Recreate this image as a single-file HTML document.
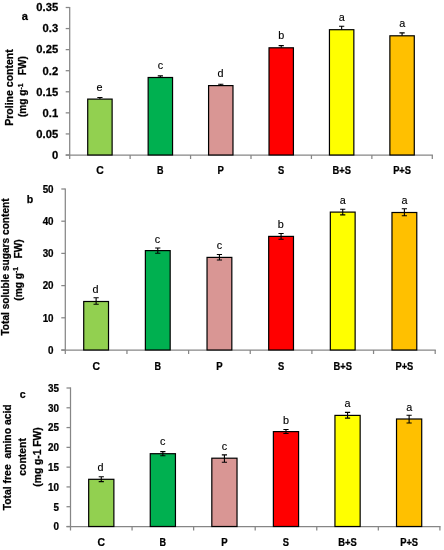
<!DOCTYPE html>
<html><head><meta charset="utf-8"><title>Figure</title>
<style>
html,body{margin:0;padding:0;background:#fff;}
svg{display:block;}
text{font-family:"Liberation Sans", sans-serif;fill:#000;white-space:pre;}
.b{font-weight:bold;font-size:10.6px;stroke:#000;stroke-width:0.25px;}
.r{font-size:11.4px;stroke:#000;stroke-width:0.15px;}
</style></head><body>
<svg width="444" height="550" viewBox="0 0 444 550">
<rect width="444" height="550" fill="#fff"/>
<line x1="69.7" y1="6.875" x2="69.7" y2="155" stroke="#868686" stroke-width="1.25"/>
<line x1="65.7" y1="155" x2="432.925" y2="155" stroke="#868686" stroke-width="1.25"/>
<line x1="65.7" y1="155.00" x2="69.7" y2="155.00" stroke="#868686" stroke-width="1.25"/>
<text transform="translate(58.20 158.80) scale(1.06 1)" text-anchor="end" class="b">0</text>
<line x1="65.7" y1="133.93" x2="69.7" y2="133.93" stroke="#868686" stroke-width="1.25"/>
<text transform="translate(58.20 137.73) scale(1.06 1)" text-anchor="end" class="b">0.05</text>
<line x1="65.7" y1="112.86" x2="69.7" y2="112.86" stroke="#868686" stroke-width="1.25"/>
<text transform="translate(58.20 116.66) scale(1.06 1)" text-anchor="end" class="b">0.1</text>
<line x1="65.7" y1="91.79" x2="69.7" y2="91.79" stroke="#868686" stroke-width="1.25"/>
<text transform="translate(58.20 95.59) scale(1.06 1)" text-anchor="end" class="b">0.15</text>
<line x1="65.7" y1="70.71" x2="69.7" y2="70.71" stroke="#868686" stroke-width="1.25"/>
<text transform="translate(58.20 74.51) scale(1.06 1)" text-anchor="end" class="b">0.2</text>
<line x1="65.7" y1="49.64" x2="69.7" y2="49.64" stroke="#868686" stroke-width="1.25"/>
<text transform="translate(58.20 53.44) scale(1.06 1)" text-anchor="end" class="b">0.25</text>
<line x1="65.7" y1="28.57" x2="69.7" y2="28.57" stroke="#868686" stroke-width="1.25"/>
<text transform="translate(58.20 32.37) scale(1.06 1)" text-anchor="end" class="b">0.3</text>
<line x1="65.7" y1="7.50" x2="69.7" y2="7.50" stroke="#868686" stroke-width="1.25"/>
<text transform="translate(58.20 11.30) scale(1.06 1)" text-anchor="end" class="b">0.35</text>
<line x1="69.70" y1="155" x2="69.70" y2="159" stroke="#868686" stroke-width="1.25"/>
<line x1="130.13" y1="155" x2="130.13" y2="159" stroke="#868686" stroke-width="1.25"/>
<line x1="190.57" y1="155" x2="190.57" y2="159" stroke="#868686" stroke-width="1.25"/>
<line x1="251.00" y1="155" x2="251.00" y2="159" stroke="#868686" stroke-width="1.25"/>
<line x1="311.43" y1="155" x2="311.43" y2="159" stroke="#868686" stroke-width="1.25"/>
<line x1="371.87" y1="155" x2="371.87" y2="159" stroke="#868686" stroke-width="1.25"/>
<line x1="432.30" y1="155" x2="432.30" y2="159" stroke="#868686" stroke-width="1.25"/>
<rect x="87.72" y="99.10" width="24.4" height="55.90" fill="#92D050" stroke="#000" stroke-width="1.2"/>
<path d="M99.92 97.50V99.10M97.32 97.50h5.2" stroke="#000" stroke-width="1.1" fill="none"/>
<text transform="translate(99.60 91.30) scale(0.95 1)" text-anchor="middle" class="r">e</text>
<text transform="translate(99.92 174.30) scale(0.98 1)" text-anchor="middle" class="b">C</text>
<rect x="148.15" y="77.50" width="24.4" height="77.50" fill="#00B050" stroke="#000" stroke-width="1.2"/>
<path d="M160.35 75.90V77.50M157.75 75.90h5.2" stroke="#000" stroke-width="1.1" fill="none"/>
<text transform="translate(160.40 69.30) scale(0.95 1)" text-anchor="middle" class="r">c</text>
<text transform="translate(160.35 174.30) scale(0.85 1)" text-anchor="middle" class="b">B</text>
<rect x="208.58" y="85.60" width="24.4" height="69.40" fill="#D99694" stroke="#000" stroke-width="1.2"/>
<path d="M220.78 84.20V85.60M218.18 84.20h5.2" stroke="#000" stroke-width="1.1" fill="none"/>
<text transform="translate(220.40 77.30) scale(0.95 1)" text-anchor="middle" class="r">d</text>
<text transform="translate(220.78 174.30) scale(0.9 1)" text-anchor="middle" class="b">P</text>
<rect x="269.02" y="47.80" width="24.4" height="107.20" fill="#FF0000" stroke="#000" stroke-width="1.2"/>
<path d="M281.22 45.60V47.80M278.62 45.60h5.2" stroke="#000" stroke-width="1.1" fill="none"/>
<text transform="translate(281.20 39.40) scale(0.95 1)" text-anchor="middle" class="r">b</text>
<text transform="translate(281.22 174.30) scale(0.88 1)" text-anchor="middle" class="b">S</text>
<rect x="329.45" y="29.70" width="24.4" height="125.30" fill="#FFFF00" stroke="#000" stroke-width="1.2"/>
<path d="M341.65 26.20V29.70M339.05 26.20h5.2" stroke="#000" stroke-width="1.1" fill="none"/>
<text transform="translate(341.70 20.90) scale(0.95 1)" text-anchor="middle" class="r">a</text>
<text transform="translate(341.65 174.30) scale(0.88 1)" text-anchor="middle" class="b">B+S</text>
<rect x="389.88" y="35.80" width="24.4" height="119.20" fill="#FFC000" stroke="#000" stroke-width="1.2"/>
<path d="M402.08 32.90V35.80M399.48 32.90h5.2" stroke="#000" stroke-width="1.1" fill="none"/>
<text transform="translate(402.20 27.10) scale(0.95 1)" text-anchor="middle" class="r">a</text>
<text transform="translate(402.08 174.30) scale(0.88 1)" text-anchor="middle" class="b">P+S</text>
<text transform="translate(24.80 19.70) scale(1.05 1)" text-anchor="middle" class="b">a</text>
<text transform="translate(12.6 87.5) rotate(-90)" text-anchor="middle" textLength="76.5" lengthAdjust="spacingAndGlyphs" class="b">Proline content</text>
<text transform="translate(26.3 86.6) rotate(-90)" text-anchor="middle" textLength="61" lengthAdjust="spacingAndGlyphs" class="b">(mg g<tspan dy="-3.6" font-size="7">-1</tspan><tspan dy="3.6">&#160;&#160;&#160;FW)</tspan></text>
<line x1="65.3" y1="188.375" x2="65.3" y2="350" stroke="#868686" stroke-width="1.25"/>
<line x1="61.3" y1="350" x2="435.825" y2="350" stroke="#868686" stroke-width="1.25"/>
<line x1="61.3" y1="350.00" x2="65.3" y2="350.00" stroke="#868686" stroke-width="1.25"/>
<text transform="translate(53.60 353.80) scale(0.93 1)" text-anchor="end" class="b">0</text>
<line x1="61.3" y1="317.80" x2="65.3" y2="317.80" stroke="#868686" stroke-width="1.25"/>
<text transform="translate(53.60 321.60) scale(0.93 1)" text-anchor="end" class="b">10</text>
<line x1="61.3" y1="285.60" x2="65.3" y2="285.60" stroke="#868686" stroke-width="1.25"/>
<text transform="translate(53.60 289.40) scale(0.93 1)" text-anchor="end" class="b">20</text>
<line x1="61.3" y1="253.40" x2="65.3" y2="253.40" stroke="#868686" stroke-width="1.25"/>
<text transform="translate(53.60 257.20) scale(0.93 1)" text-anchor="end" class="b">30</text>
<line x1="61.3" y1="221.20" x2="65.3" y2="221.20" stroke="#868686" stroke-width="1.25"/>
<text transform="translate(53.60 225.00) scale(0.93 1)" text-anchor="end" class="b">40</text>
<line x1="61.3" y1="189.00" x2="65.3" y2="189.00" stroke="#868686" stroke-width="1.25"/>
<text transform="translate(53.60 192.80) scale(0.93 1)" text-anchor="end" class="b">50</text>
<line x1="65.30" y1="350" x2="65.30" y2="354" stroke="#868686" stroke-width="1.25"/>
<line x1="126.95" y1="350" x2="126.95" y2="354" stroke="#868686" stroke-width="1.25"/>
<line x1="188.60" y1="350" x2="188.60" y2="354" stroke="#868686" stroke-width="1.25"/>
<line x1="250.25" y1="350" x2="250.25" y2="354" stroke="#868686" stroke-width="1.25"/>
<line x1="311.90" y1="350" x2="311.90" y2="354" stroke="#868686" stroke-width="1.25"/>
<line x1="373.55" y1="350" x2="373.55" y2="354" stroke="#868686" stroke-width="1.25"/>
<line x1="435.20" y1="350" x2="435.20" y2="354" stroke="#868686" stroke-width="1.25"/>
<rect x="83.72" y="301.50" width="24.8" height="48.50" fill="#92D050" stroke="#000" stroke-width="1.2"/>
<path d="M96.12 297.70V304.20M93.53 297.70h5.2M93.53 304.20h5.2" stroke="#000" stroke-width="1.1" fill="none"/>
<text transform="translate(95.50 292.70) scale(0.95 1)" text-anchor="middle" class="r">d</text>
<text transform="translate(96.12 369.50) scale(0.98 1)" text-anchor="middle" class="b">C</text>
<rect x="145.37" y="250.60" width="24.8" height="99.40" fill="#00B050" stroke="#000" stroke-width="1.2"/>
<path d="M157.77 248.00V253.20M155.17 248.00h5.2M155.17 253.20h5.2" stroke="#000" stroke-width="1.1" fill="none"/>
<text transform="translate(157.50 242.70) scale(0.95 1)" text-anchor="middle" class="r">c</text>
<text transform="translate(157.77 369.50) scale(0.85 1)" text-anchor="middle" class="b">B</text>
<rect x="207.03" y="257.40" width="24.8" height="92.60" fill="#D99694" stroke="#000" stroke-width="1.2"/>
<path d="M219.43 254.50V260.00M216.83 254.50h5.2M216.83 260.00h5.2" stroke="#000" stroke-width="1.1" fill="none"/>
<text transform="translate(219.40 249.00) scale(0.95 1)" text-anchor="middle" class="r">c</text>
<text transform="translate(219.43 369.50) scale(0.9 1)" text-anchor="middle" class="b">P</text>
<rect x="268.68" y="236.40" width="24.8" height="113.60" fill="#FF0000" stroke="#000" stroke-width="1.2"/>
<path d="M281.07 233.50V239.20M278.47 233.50h5.2M278.47 239.20h5.2" stroke="#000" stroke-width="1.1" fill="none"/>
<text transform="translate(280.80 227.90) scale(0.95 1)" text-anchor="middle" class="r">b</text>
<text transform="translate(281.07 369.50) scale(0.88 1)" text-anchor="middle" class="b">S</text>
<rect x="330.33" y="212.10" width="24.8" height="137.90" fill="#FFFF00" stroke="#000" stroke-width="1.2"/>
<path d="M342.73 209.20V214.90M340.12 209.20h5.2M340.12 214.90h5.2" stroke="#000" stroke-width="1.1" fill="none"/>
<text transform="translate(342.80 203.70) scale(0.95 1)" text-anchor="middle" class="r">a</text>
<text transform="translate(342.73 369.50) scale(0.88 1)" text-anchor="middle" class="b">B+S</text>
<rect x="391.98" y="212.50" width="24.8" height="137.50" fill="#FFC000" stroke="#000" stroke-width="1.2"/>
<path d="M404.38 208.80V215.70M401.77 208.80h5.2M401.77 215.70h5.2" stroke="#000" stroke-width="1.1" fill="none"/>
<text transform="translate(404.40 203.70) scale(0.95 1)" text-anchor="middle" class="r">a</text>
<text transform="translate(404.38 369.50) scale(0.88 1)" text-anchor="middle" class="b">P+S</text>
<text transform="translate(30.10 202.90) scale(1.0 1)" text-anchor="middle" class="b">b</text>
<text transform="translate(9.1 267) rotate(-90)" text-anchor="middle" textLength="137.2" lengthAdjust="spacingAndGlyphs" class="b">Total soluble sugars content</text>
<text transform="translate(21.6 270) rotate(-90)" text-anchor="middle" textLength="61.5" lengthAdjust="spacingAndGlyphs" class="b">(mg g<tspan dy="-3.6" font-size="7">-1</tspan><tspan dy="3.6">&#160;&#160;&#160;FW)</tspan></text>
<line x1="70.5" y1="387.375" x2="70.5" y2="526.5" stroke="#868686" stroke-width="1.25"/>
<line x1="66.5" y1="526.5" x2="440.525" y2="526.5" stroke="#868686" stroke-width="1.25"/>
<line x1="66.5" y1="526.50" x2="70.5" y2="526.50" stroke="#868686" stroke-width="1.25"/>
<text transform="translate(59.00 530.30) scale(0.93 1)" text-anchor="end" class="b">0</text>
<line x1="66.5" y1="506.71" x2="70.5" y2="506.71" stroke="#868686" stroke-width="1.25"/>
<text transform="translate(59.00 510.51) scale(0.93 1)" text-anchor="end" class="b">5</text>
<line x1="66.5" y1="486.93" x2="70.5" y2="486.93" stroke="#868686" stroke-width="1.25"/>
<text transform="translate(59.00 490.73) scale(0.93 1)" text-anchor="end" class="b">10</text>
<line x1="66.5" y1="467.14" x2="70.5" y2="467.14" stroke="#868686" stroke-width="1.25"/>
<text transform="translate(59.00 470.94) scale(0.93 1)" text-anchor="end" class="b">15</text>
<line x1="66.5" y1="447.36" x2="70.5" y2="447.36" stroke="#868686" stroke-width="1.25"/>
<text transform="translate(59.00 451.16) scale(0.93 1)" text-anchor="end" class="b">20</text>
<line x1="66.5" y1="427.57" x2="70.5" y2="427.57" stroke="#868686" stroke-width="1.25"/>
<text transform="translate(59.00 431.37) scale(0.93 1)" text-anchor="end" class="b">25</text>
<line x1="66.5" y1="407.79" x2="70.5" y2="407.79" stroke="#868686" stroke-width="1.25"/>
<text transform="translate(59.00 411.59) scale(0.93 1)" text-anchor="end" class="b">30</text>
<line x1="66.5" y1="388.00" x2="70.5" y2="388.00" stroke="#868686" stroke-width="1.25"/>
<text transform="translate(59.00 391.80) scale(0.93 1)" text-anchor="end" class="b">35</text>
<line x1="70.50" y1="526.5" x2="70.50" y2="530.5" stroke="#868686" stroke-width="1.25"/>
<line x1="132.07" y1="526.5" x2="132.07" y2="530.5" stroke="#868686" stroke-width="1.25"/>
<line x1="193.63" y1="526.5" x2="193.63" y2="530.5" stroke="#868686" stroke-width="1.25"/>
<line x1="255.20" y1="526.5" x2="255.20" y2="530.5" stroke="#868686" stroke-width="1.25"/>
<line x1="316.77" y1="526.5" x2="316.77" y2="530.5" stroke="#868686" stroke-width="1.25"/>
<line x1="378.33" y1="526.5" x2="378.33" y2="530.5" stroke="#868686" stroke-width="1.25"/>
<line x1="439.90" y1="526.5" x2="439.90" y2="530.5" stroke="#868686" stroke-width="1.25"/>
<rect x="88.68" y="479.30" width="25.2" height="47.20" fill="#92D050" stroke="#000" stroke-width="1.2"/>
<path d="M101.28 476.70V481.60M98.68 476.70h5.2M98.68 481.60h5.2" stroke="#000" stroke-width="1.1" fill="none"/>
<text transform="translate(100.40 470.80) scale(0.95 1)" text-anchor="middle" class="r">d</text>
<text transform="translate(101.28 546.00) scale(0.98 1)" text-anchor="middle" class="b">C</text>
<rect x="150.25" y="453.70" width="25.2" height="72.80" fill="#00B050" stroke="#000" stroke-width="1.2"/>
<path d="M162.85 451.60V455.70M160.25 451.60h5.2M160.25 455.70h5.2" stroke="#000" stroke-width="1.1" fill="none"/>
<text transform="translate(162.80 445.30) scale(0.95 1)" text-anchor="middle" class="r">c</text>
<text transform="translate(162.85 546.00) scale(0.85 1)" text-anchor="middle" class="b">B</text>
<rect x="211.82" y="458.20" width="25.2" height="68.30" fill="#D99694" stroke="#000" stroke-width="1.2"/>
<path d="M224.42 454.90V462.20M221.82 454.90h5.2M221.82 462.20h5.2" stroke="#000" stroke-width="1.1" fill="none"/>
<text transform="translate(224.40 449.80) scale(0.95 1)" text-anchor="middle" class="r">c</text>
<text transform="translate(224.42 546.00) scale(0.9 1)" text-anchor="middle" class="b">P</text>
<rect x="273.38" y="431.60" width="25.2" height="94.90" fill="#FF0000" stroke="#000" stroke-width="1.2"/>
<path d="M285.98 429.50V433.50M283.38 429.50h5.2M283.38 433.50h5.2" stroke="#000" stroke-width="1.1" fill="none"/>
<text transform="translate(285.90 423.60) scale(0.95 1)" text-anchor="middle" class="r">b</text>
<text transform="translate(285.98 546.00) scale(0.88 1)" text-anchor="middle" class="b">S</text>
<rect x="334.95" y="415.40" width="25.2" height="111.10" fill="#FFFF00" stroke="#000" stroke-width="1.2"/>
<path d="M347.55 412.40V418.10M344.95 412.40h5.2M344.95 418.10h5.2" stroke="#000" stroke-width="1.1" fill="none"/>
<text transform="translate(347.60 406.90) scale(0.95 1)" text-anchor="middle" class="r">a</text>
<text transform="translate(347.55 546.00) scale(0.88 1)" text-anchor="middle" class="b">B+S</text>
<rect x="396.52" y="419.00" width="25.2" height="107.50" fill="#FFC000" stroke="#000" stroke-width="1.2"/>
<path d="M409.12 415.30V423.00M406.52 415.30h5.2M406.52 423.00h5.2" stroke="#000" stroke-width="1.1" fill="none"/>
<text transform="translate(409.20 411.00) scale(0.95 1)" text-anchor="middle" class="r">a</text>
<text transform="translate(409.12 546.00) scale(0.88 1)" text-anchor="middle" class="b">P+S</text>
<text transform="translate(22.80 397.70) scale(1.0 1)" text-anchor="middle" class="b">c</text>
<text transform="translate(10.9 457.3) rotate(-90)" text-anchor="middle" textLength="106" lengthAdjust="spacingAndGlyphs" class="b">Total free&#160; amino acid</text>
<text transform="translate(26.0 456.9) rotate(-90)" text-anchor="middle" textLength="37.6" lengthAdjust="spacingAndGlyphs" class="b">content</text>
<text transform="translate(41.2 457) rotate(-90)" text-anchor="middle" textLength="59.3" lengthAdjust="spacingAndGlyphs" class="b">(mg g-1 FW)</text>
</svg>
</body></html>
